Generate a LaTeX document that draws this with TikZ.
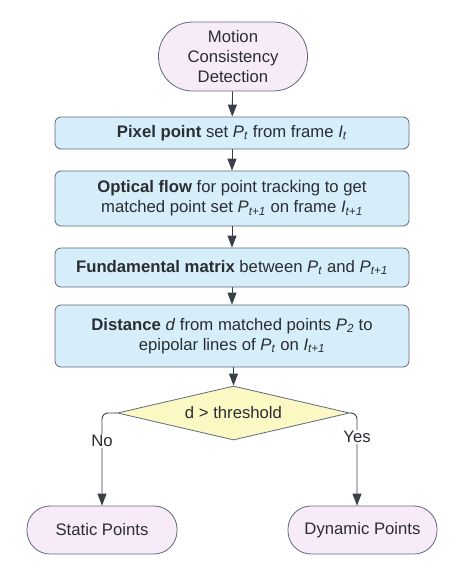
\documentclass[tikz,border=0pt]{standalone}
\usepackage{fontspec}
\setmainfont{Liberation Sans}
\usetikzlibrary{arrows.meta,shapes.geometric}
\newcommand\vv[2]{\textit{#1}\textsubscript{\textit{#2}}}
\definecolor{linec}{HTML}{3A3F48}
\definecolor{borderc}{HTML}{5F6B77}
\definecolor{boxfill}{HTML}{D5EEF9}
\definecolor{termfill}{HTML}{F7EBFA}
\definecolor{decfill}{HTML}{FCF8C4}
\definecolor{txtc}{HTML}{2A2D33}
\begin{document}
\begin{tikzpicture}[x=1pt,y=-1pt,
  every node/.style={font=\fontsize{16.7}{20}\selectfont, text=txtc},
  term/.style={draw=borderc, fill=termfill, line width=0.8pt, rounded corners=23pt, align=center, inner sep=0pt},
  procbox/.style={draw=borderc, fill=boxfill, line width=0.8pt, rounded corners=6pt, minimum width=354pt, align=center, inner sep=0pt},
  decision/.style={draw=borderc, fill=decfill, line width=0.8pt, shape=diamond, aspect=4.3, minimum width=232pt, minimum height=54pt, inner sep=0pt},
  conn/.style={draw=linec, line width=0.9pt, -{Triangle[length=12pt,width=9pt]}},
  lbl/.style={fill=white, inner sep=1.5pt}]
\useasboundingbox (0,0) rectangle (474,581);
\node[term, minimum width=149pt, minimum height=69pt, rounded corners=34pt] (start) at (233,56.5) {Motion\\Consistency\\Detection};
\node[procbox, minimum height=32pt] (b1) at (232,133) {\textbf{Pixel point} set \vv{P}{t} from frame \vv{I}{t}};
\node[procbox, minimum height=55pt] (b2) at (232,198.5) {\textbf{Optical flow} for point tracking to get\\matched point set \vv{P}{t+1} on frame \vv{I}{t+1}};
\node[procbox, minimum height=39pt] (b3) at (232,267.5) {\textbf{Fundamental matrix} between \vv{P}{t} and \vv{P}{t+1}};
\node[procbox, minimum height=62pt] (b4) at (232,336) {\textbf{Distance} \textit{d} from matched points \vv{P}{2} to\\epipolar lines of \vv{P}{t} on \vv{I}{t+1}};
\node[decision] (dec) at (233.5,413) {d > threshold};
\node[term, minimum width=150pt, minimum height=48pt] (stat) at (102,530) {Static Points};
\node[term, minimum width=149pt, minimum height=48pt] (dyn) at (362.5,530) {Dynamic Points};
\coordinate (dynin) at ([xshift=-5.5pt]dyn.north);
\draw[conn] (start) -- (b1);
\draw[conn] (b1) -- (b2);
\draw[conn] (b2) -- (b3);
\draw[conn] (b3) -- (b4);
\draw[conn] (b4.south -| dec.north) -- (dec.north);
\draw[conn, rounded corners=6pt] (dec.west) -| (stat.north);
\draw[conn, rounded corners=6pt] (dec.east) -| (dynin);
\node[lbl] (no) at (102,441) {No};
\node[lbl] (yes) at (357,437) {Yes};
\end{tikzpicture}
\end{document}
